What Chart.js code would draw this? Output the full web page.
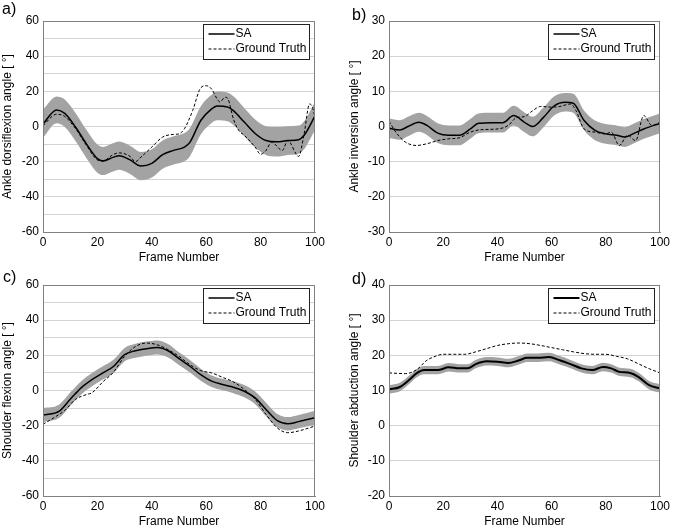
<!DOCTYPE html>
<html>
<head>
<meta charset="utf-8">
<script src="https://cdn.jsdelivr.net/npm/chart.js@4"></script>
<style>
  body { margin: 0; background: #fff; }
  #wrap { position: relative; width: 674px; height: 528px; }
  .panel { position: absolute; width: 337px; height: 264px; }
  .panel canvas { position: absolute; left: 0; top: 0; }
  .tag { position: absolute; font: 16px "Liberation Sans", Arial, sans-serif; color: #000; }
</style>
</head>
<body>
<div id="wrap">
  <div class="panel" style="left:0;top:0"><canvas id="chartA" width="337" height="264"></canvas><div class="tag" style="left:2px;top:0px">a)</div></div>
  <div class="panel" style="left:337px;top:0"><canvas id="chartB" width="337" height="264"></canvas><div class="tag" style="left:15px;top:6px">b)</div></div>
  <div class="panel" style="left:0;top:264px"><canvas id="chartC" width="337" height="264"></canvas><div class="tag" style="left:3px;top:4px">c)</div></div>
  <div class="panel" style="left:337px;top:264px"><canvas id="chartD" width="337" height="264"></canvas><div class="tag" style="left:15px;top:6px">d)</div></div>
</div>
<script>
// a) ankle dorsiflexion
const saFramesA = [0, 5, 8, 12, 16, 20, 22, 26, 28, 32, 36, 40, 44, 48, 52, 54, 58, 62, 64, 68, 70, 74, 78, 82, 86, 90, 94, 96, 100];
const saA = [1.5, 9.4, 7.5, -0.4, -10, -18.3, -19.6, -17.4, -16.6, -19, -22.5, -21, -16, -13.6, -11.7, -9, 3.4, 10, 11.7, 11, 9, 2.5, -4, -8, -8.7, -8, -7.5, -5, 6];
const spreadA = [8, 7.6, 7.8, 8, 8, 8, 8, 8, 8, 8, 8, 8, 8, 8, 8, 8, 8, 8, 8.2, 8.2, 8.2, 8, 8, 8.2, 8.4, 8.2, 8, 8, 8];
const gtFramesA = [0, 5, 8, 12, 16, 20, 22, 26, 28, 32, 34, 36, 40, 44, 48, 50, 52, 55, 58, 60, 62, 64, 65, 67, 68, 70, 72, 74, 78, 80, 82, 84, 88, 90, 94, 96, 98, 99, 100];
const gtA = [0.5, 7, 5.7, -1.3, -10.8, -19, -19.6, -15.8, -15, -17, -20, -17.4, -11.7, -6, -4.5, -4.2, -1.3, 9, 22, 23.2, 21.3, 15.7, 14, 16.6, 15.7, 4.3, -2.3, -5, -11.7, -15.8, -13.6, -8.9, -13.6, -8, -17, -4.2, 12.8, 11.3, 5.3];

// b) ankle inversion
const saFramesB = [0, 4, 7, 11, 14, 18, 22, 26, 30, 33, 38, 42, 46, 50, 53, 57, 61, 65, 68, 72, 76, 80, 84, 87, 90, 94, 100];
const saB = [-0.5, -1, 0, 1.2, 0.3, -1.9, -2.5, -2.5, -0.7, 0.9, 1.1, 1.1, 3.1, 1.2, 0, 2.6, 5.9, 6.9, 6.6, 1.7, -1.1, -2.1, -2.5, -3, -2.1, -0.7, 0.9];
const spreadB = [2.8, 2.8, 2.8, 2.7, 2.7, 2.8, 2.8, 2.8, 2.8, 2.8, 2.8, 2.8, 2.8, 2.8, 2.8, 2.8, 2.7, 2.6, 2.7, 2.8, 2.8, 2.8, 2.8, 2.8, 2.8, 2.8, 2.8];
const gtFramesB = [0, 3, 6, 10, 14, 18, 22, 26, 30, 34, 40, 44, 47, 50, 53, 56, 60, 63, 67, 69, 72, 76, 80, 82, 85, 88, 91, 94, 97, 100];
const gtB = [1.5, -2.1, -4.4, -5.4, -4.9, -4, -3.5, -3.2, -1.6, -0.9, -0.7, 0.3, 2.5, 2.8, 4.5, 5.7, 5.5, 5.7, 6.4, 4.5, -0.7, -1.6, -2.1, -1.6, -5.4, -2.5, -4, 3.1, 0.3, 1.2];

// c) shoulder flexion
const saFramesC = [0, 6, 10, 14, 18, 22, 26, 30, 34, 38, 42, 46, 50, 54, 58, 62, 66, 70, 74, 78, 82, 86, 90, 94, 100];
const saC = [-14, -11.7, -5, 1.5, 6.2, 10, 13.8, 20.4, 22.6, 23.8, 24.5, 22.6, 18.1, 13.8, 9, 5.3, 3.4, 1.9, -0.4, -4.2, -10.8, -17, -18.9, -17.7, -15.5];
const spreadC = [4, 3.8, 3.8, 3.8, 3.8, 3.8, 3.8, 3.8, 4, 4, 4, 3.8, 3.6, 3.5, 3.4, 3.3, 3.3, 3.4, 3.5, 3.6, 3.8, 3.8, 3.8, 3.8, 4];
const gtFramesC = [0, 4, 8, 12, 16, 18, 22, 26, 30, 34, 38, 42, 46, 50, 54, 58, 62, 66, 70, 74, 78, 82, 86, 90, 94, 100];
const gtC = [-19.2, -15.5, -11.3, -5, -2.3, -1.3, 4.9, 10.6, 19.4, 25, 27, 26, 23.2, 19.4, 14.7, 11.3, 10, 7.5, 4.9, 0.6, -5, -13.6, -21.1, -24, -23, -20.2];

// d) shoulder abduction
const saFramesD = [0, 4, 8, 10, 13, 18, 22, 26, 29, 32, 36, 40, 44, 48, 51, 55, 59, 63, 67, 71, 75, 79, 82, 85, 89, 92, 96, 100];
const saD = [10.3, 11, 13.4, 14.8, 15.8, 15.8, 16.6, 16.3, 16.3, 17.5, 18.3, 18.2, 17.8, 18.6, 19.3, 19.3, 19.5, 18.6, 17.5, 16.3, 15.8, 16.7, 16.3, 15.3, 15, 13.9, 11.5, 10.6];
const spreadD = [1.2, 1.2, 1.2, 1.2, 1.2, 1.2, 1.2, 1.2, 1.2, 1.2, 1.2, 1.2, 1.2, 1.2, 1.2, 1.2, 1.2, 1.2, 1.2, 1.2, 1.2, 1.2, 1.2, 1.2, 1.2, 1.2, 1.2, 1.2];
const gtFramesD = [0, 6, 10, 14, 17, 20, 24, 28, 32, 36, 40, 44, 48, 52, 56, 60, 64, 68, 72, 76, 80, 84, 88, 92, 96, 100];
const gtD = [15, 14.8, 15.8, 18.6, 19.7, 20.3, 20.3, 20.3, 21, 21.9, 22.8, 23.3, 23.5, 23.3, 22.8, 22.2, 21.6, 21, 20.5, 20.3, 20.3, 19.7, 19, 17.6, 16.2, 15];

const xTicks = [0, 20, 40, 60, 80, 100];
const seriesLabels = ['SA', 'Ground Truth'];

const FONT = '"Liberation Sans", Arial, sans-serif';

function pts(xs, ys) {
  return xs.map((x, i) => ({ x: x, y: ys[i] }));
}

// plot frame + legend box drawn on top
const framePlugin = {
  id: 'frame',
  afterDraw(chart) {
    const { ctx, chartArea: a } = chart;
    ctx.save();
    ctx.strokeStyle = '#808080';
    ctx.lineWidth = 1;
    ctx.strokeRect(a.left + 0.5, a.top + 0.5, a.right - a.left - 1, a.bottom - a.top);

    // legend
    const w = 106, h = 35;
    const bx = Math.round(a.right - 6 - w) + 0.5, by = Math.round(a.top + 3) + 0.5;
    ctx.fillStyle = '#fff';
    ctx.fillRect(bx, by, w, h);
    ctx.strokeStyle = '#222';
    ctx.strokeRect(bx, by, w, h);
    ctx.font = '12px ' + FONT;
    ctx.fillStyle = '#000';
    ctx.textBaseline = 'middle';
    const rows = [
      { y: by + 9.5, dash: [], width: chart.options.plugins.frame.saWidth },
      { y: by + 24.5, dash: [3, 2], width: 1 }
    ];
    rows.forEach((r, i) => {
      ctx.beginPath();
      ctx.setLineDash(r.dash);
      ctx.lineWidth = r.width;
      ctx.strokeStyle = '#000';
      ctx.moveTo(bx + 5, r.y);
      ctx.lineTo(bx + 31, r.y);
      ctx.stroke();
      ctx.fillText(seriesLabels[i], bx + 32, r.y);
    });
    ctx.restore();
  }
};

function makeChart(id, cfg) {
  const lower = cfg.sa.map((v, i) => v - cfg.spread[i]);
  const upper = cfg.sa.map((v, i) => v + cfg.spread[i]);
  new Chart(document.getElementById(id), {
    type: 'line',
    data: {
      datasets: [
        { label: 'lower', data: pts(cfg.saFrames, lower), borderWidth: 0, pointRadius: 0, fill: false, order: 5, cubicInterpolationMode: 'monotone' },
        { label: 'upper', data: pts(cfg.saFrames, upper), borderWidth: 0, pointRadius: 0, fill: '-1', backgroundColor: '#a3a3a3', order: 4, cubicInterpolationMode: 'monotone' },
        { label: seriesLabels[0], data: pts(cfg.saFrames, cfg.sa), borderColor: '#000', borderWidth: cfg.saWidth, pointRadius: 0, fill: false, order: 1, cubicInterpolationMode: 'monotone' },
        { label: seriesLabels[1], data: pts(cfg.gtFrames, cfg.gt), borderColor: '#000', borderWidth: 1, borderDash: [3, 2], pointRadius: 0, fill: false, order: 0, cubicInterpolationMode: 'monotone' }
      ]
    },
    options: {
      responsive: false,
      animation: false,
      layout: { padding: { left: 0, top: 21, right: 337 - cfg.right, bottom: 0 } },
      plugins: {
        legend: { display: false },
        tooltip: { enabled: false },
        frame: { saWidth: cfg.saWidth }
      },
      scales: {
        x: {
          type: 'linear',
          min: 0, max: 100,
          afterBuildTicks: s => { s.ticks = xTicks.map(v => ({ value: v })); },
          afterFit: s => { s.height = 32; },
          grid: { display: false, drawTicks: false },
          border: { color: '#808080' },
          ticks: { color: '#000', font: { family: FONT, size: 12 }, padding: 3, maxRotation: 0 },
          title: { display: true, text: 'Frame Number', color: '#000', font: { family: FONT, size: 12, lineHeight: 1 }, padding: { top: 0, bottom: 0 } }
        },
        y: {
          min: cfg.yMin, max: cfg.yMax,
          afterBuildTicks: s => {
            const t = [];
            for (let v = cfg.yMin; v <= cfg.yMax; v += 10) t.push({ value: v });
            s.ticks = t;
          },
          afterFit: s => { s.width = cfg.left; },
          grid: { color: '#d4d4d4', lineWidth: 1, drawTicks: false },
          border: { color: '#808080' },
          ticks: {
            color: '#000', font: { family: FONT, size: 12 }, padding: 4,
            callback: v => (v % cfg.labelStep === 0 ? v : '')
          },
          title: { display: true, text: cfg.yTitle, color: '#000', font: { family: FONT, size: 12, lineHeight: 1.2 }, padding: { top: cfg.titlePad, bottom: 0 } }
        }
      }
    },
    plugins: [framePlugin]
  });
}

makeChart('chartA', {
  saFrames: saFramesA, sa: saA, spread: spreadA, gtFrames: gtFramesA, gt: gtA,
  yMin: -60, yMax: 60, labelStep: 20, left: 43, right: 315, titlePad: 0, saWidth: 1.5,
  yTitle: 'Ankle dorsiflexion angle [ °]'
});
makeChart('chartB', {
  saFrames: saFramesB, sa: saB, spread: spreadB, gtFrames: gtFramesB, gt: gtB,
  yMin: -30, yMax: 30, labelStep: 10, left: 52, right: 323, titlePad: 10, saWidth: 1.5,
  yTitle: 'Ankle inversion angle [ °]'
});
makeChart('chartC', {
  saFrames: saFramesC, sa: saC, spread: spreadC, gtFrames: gtFramesC, gt: gtC,
  yMin: -60, yMax: 60, labelStep: 20, left: 43, right: 315, titlePad: 0, saWidth: 1.5,
  yTitle: 'Shoulder flexion angle [ °]'
});
makeChart('chartD', {
  saFrames: saFramesD, sa: saD, spread: spreadD, gtFrames: gtFramesD, gt: gtD,
  yMin: -20, yMax: 40, labelStep: 10, left: 52, right: 323, titlePad: 10, saWidth: 2,
  yTitle: 'Shoulder abduction angle [ °]'
});
</script>
</body>
</html>
